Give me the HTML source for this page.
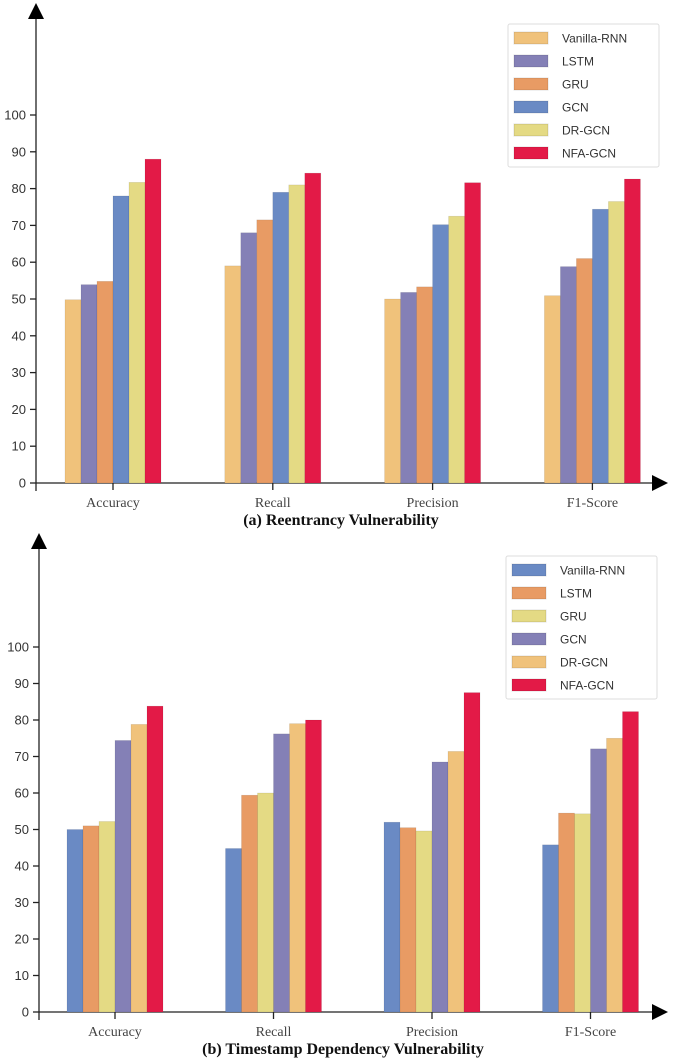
<!DOCTYPE html>
<html><head><meta charset="utf-8"><style>
body{margin:0;background:#fff;width:685px;height:1062px;overflow:hidden}
svg{display:block}
.tk{font:13px "Liberation Sans",sans-serif;fill:#333}
.cat{font:14px "Liberation Serif",serif;fill:#444}
.ttl{font:bold 16px "Liberation Serif",serif;fill:#111}
.lg{font:12px "Liberation Sans",sans-serif;fill:#333}
</style></head><body>
<svg id="chart" width="685" height="1062" xmlns="http://www.w3.org/2000/svg"></svg>
<script>
const categories=["Accuracy","Recall","Precision","F1-Score"];
const yTicks=[0,10,20,30,40,50,60,70,80,90,100];
const seriesA=["Vanilla-RNN","LSTM","GRU","GCN","DR-GCN","NFA-GCN"];
const colorsA=["#F0C27B","#8480B6","#E89B64","#6A8AC4","#E4DA84","#E31A47"];
const valsA_vanilla=[49.8,59,50,50.9];
const valsA_lstm=[53.9,68,51.8,58.8];
const valsA_gru=[54.8,71.5,53.3,61];
const valsA_gcn=[78,79,70.2,74.4];
const valsA_drgcn=[81.7,81,72.5,76.5];
const valsA_nfagcn=[88,84.2,81.6,82.6];
const seriesB=["Vanilla-RNN","LSTM","GRU","GCN","DR-GCN","NFA-GCN"];
const colorsB=["#6A8AC4","#E89B64","#E4DA84","#8480B6","#F0C27B","#E31A47"];
const valsB_vanilla=[50,44.8,52,45.8];
const valsB_lstm=[51,59.4,50.5,54.5];
const valsB_gru=[52.2,60,49.6,54.3];
const valsB_gcn=[74.4,76.2,68.5,72.1];
const valsB_drgcn=[78.8,79,71.4,75];
const valsB_nfagcn=[83.8,80,87.5,82.3];

const NS="http://www.w3.org/2000/svg";
const svg=document.getElementById('chart');
function mk(tag,attrs,parent,text){const e=document.createElementNS(NS,tag);for(const k in attrs)e.setAttribute(k,attrs[k]);if(text!==undefined)e.textContent=text;(parent||svg).appendChild(e);return e;}

function drawChart(cfg,series,colors,vals,title,id){
  const g=mk('g',{});
  
  
  const y=v=>cfg.y0-(cfg.y0-cfg.y100)*v/100;
  const xc=i=>cfg.x0+cfg.step*i;
  const ya=mk('line',{x1:cfg.ax,y1:cfg.top+12,x2:cfg.ax,y2:cfg.y0+8,stroke:'#222','stroke-width':1.3},g);
  
  const yar=mk('polygon',{points:`${cfg.ax-8},${cfg.top+16} ${cfg.ax+8},${cfg.top+16} ${cfg.ax},${cfg.top}`,fill:'#000'},g);
  
  const xa=mk('line',{x1:cfg.ax,y1:cfg.y0,x2:cfg.right-10,y2:cfg.y0,stroke:'#222','stroke-width':1.3},g);
  
  const xar=mk('polygon',{points:`${cfg.right-16},${cfg.y0-8} ${cfg.right-16},${cfg.y0+8} ${cfg.right},${cfg.y0}`,fill:'#000'},g);
  
  yTicks.forEach(t=>{
    mk('line',{x1:cfg.ax-6,y1:y(t),x2:cfg.ax,y2:y(t),stroke:'#222','stroke-width':1.3},g);
    const tl=mk('text',{x:cfg.ax-10,y:y(t)+4.5,'text-anchor':'end',class:'tk'},g,String(t));
    
  });
  categories.forEach((c,i)=>{
    mk('line',{x1:xc(i),y1:cfg.y0,x2:xc(i),y2:cfg.y0+7,stroke:'#222','stroke-width':1.3},g);
    const cl=mk('text',{x:xc(i),y:cfg.y0+24,'text-anchor':'middle',class:'cat'},g,c);
    
    vals.forEach((arr,s)=>{
      const bx=xc(i)-cfg.bw*3+cfg.bw*s;
      const r=mk('rect',{x:bx,y:y(arr[i]),width:cfg.bw,height:cfg.y0-y(arr[i]),fill:colors[s],stroke:'rgba(0,0,0,0.12)','stroke-width':0.6},g);
      
      
    });
  });
  const tt=mk('text',{x:cfg.tx,y:cfg.y0+42,'text-anchor':'middle',class:'ttl'},g,title);
  
  const lg=mk('g',{},g);
  
  mk('rect',{x:cfg.lx,y:cfg.ly,width:151,height:143,rx:2,fill:'#fff',stroke:'#ddd'},lg);
  series.forEach((s,k)=>{
    const cy=cfg.ly+14+k*23;
    const sw=mk('rect',{x:cfg.lx+6,y:cy-6,width:34,height:12,fill:colors[k],stroke:'rgba(0,0,0,0.12)'},lg);
    
    const lt=mk('text',{x:cfg.lx+54,y:cy+4.5,class:'lg'},lg,s);
    
  });
}
drawChart({ax:36,top:3,y0:483,y100:115,x0:113,step:159.8,bw:16,right:668,tx:341,lx:508,ly:24},
  seriesA,colorsA,[valsA_vanilla,valsA_lstm,valsA_gru,valsA_gcn,valsA_drgcn,valsA_nfagcn],
  "(a) Reentrancy Vulnerability","chart-a-reentrancy");
drawChart({ax:39,top:533,y0:1012,y100:647,x0:115,step:158.5,bw:16,right:668,tx:343,lx:506,ly:556},
  seriesB,colorsB,[valsB_vanilla,valsB_lstm,valsB_gru,valsB_gcn,valsB_drgcn,valsB_nfagcn],
  "(b) Timestamp Dependency Vulnerability","chart-b-timestamp");
</script>
</body></html>
